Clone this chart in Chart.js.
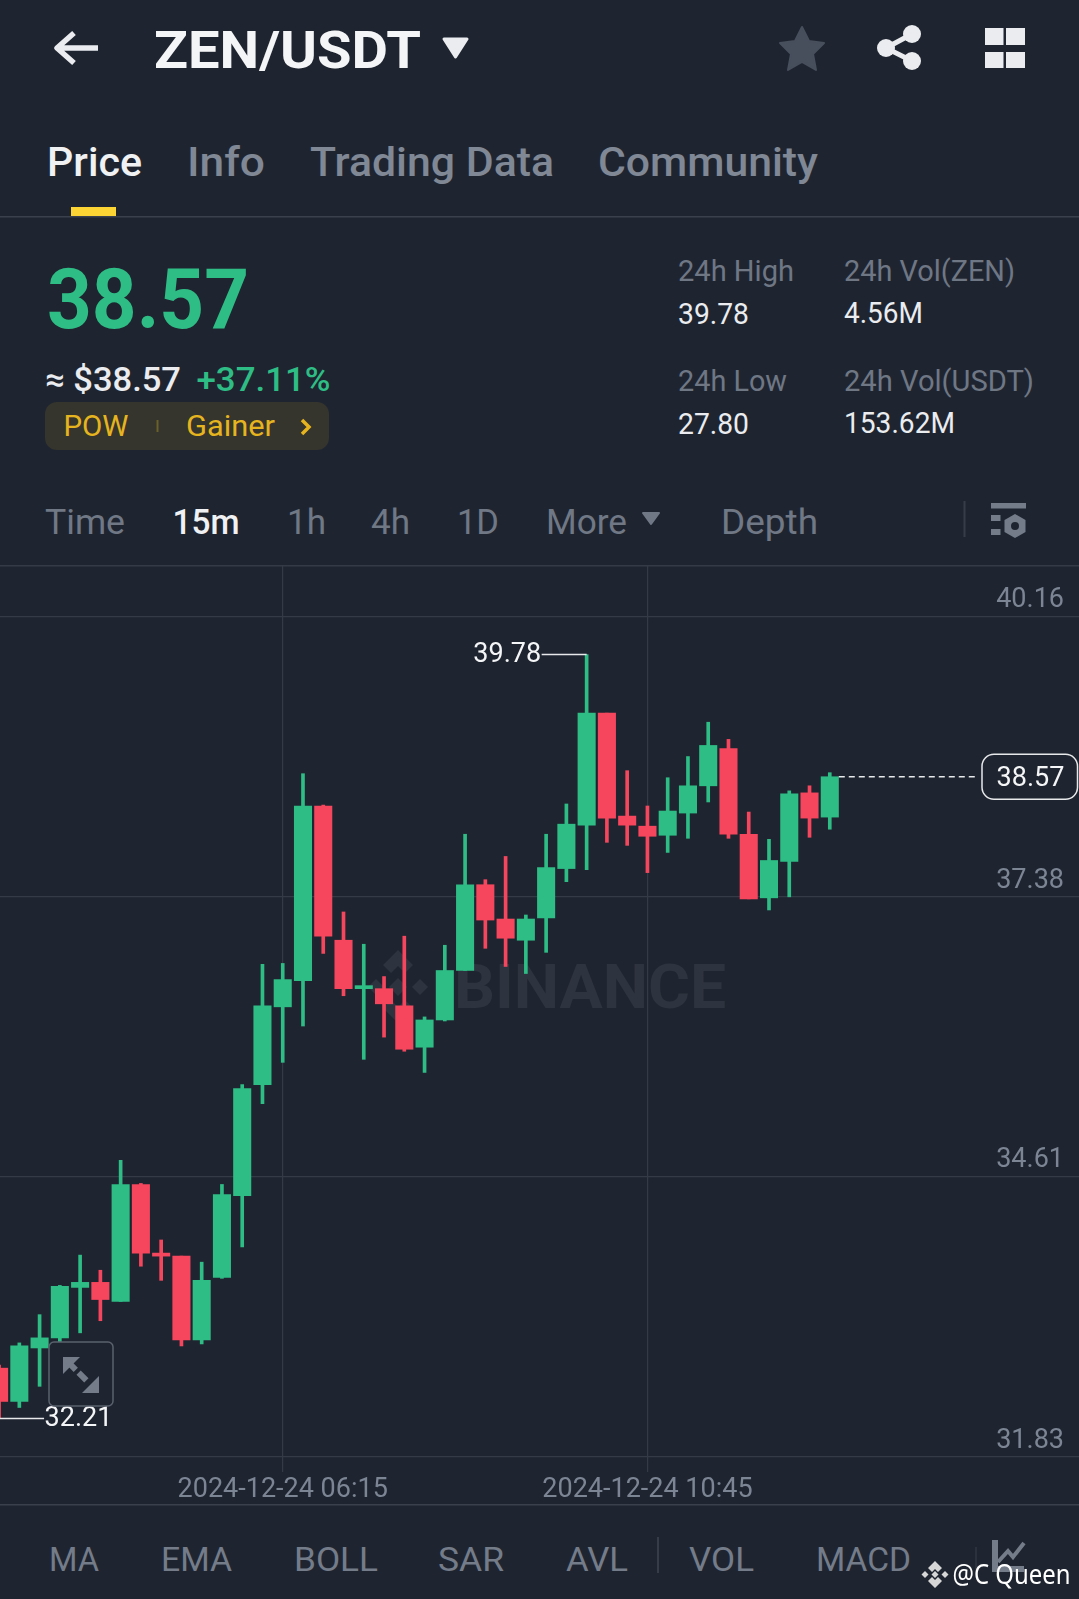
<!DOCTYPE html>
<html><head><meta charset="utf-8">
<style>
html,body{margin:0;padding:0;background:#1f2530;width:1079px;height:1599px;overflow:hidden}
svg,canvas{position:absolute;left:0}
text{font-family:Roboto,sans-serif}
</style>
<script src="https://cdn.jsdelivr.net/npm/chart.js@4"></script>
</head><body>
<svg style="top:0" width="1079" height="1599" viewBox="0 0 1079 1599">
  <path d="M98 48H60M74 33L57 48L74 63" fill="none" stroke="#eaecef" stroke-width="5.5" stroke-linejoin="round"/>
  <text x="154" y="68" font-size="52" font-weight="700" fill="#f4f5f6" textLength="267" lengthAdjust="spacingAndGlyphs">ZEN/USDT</text>
  <path d="M444 39H467L455.500 57Z" fill="#eaecef" stroke="#eaecef" stroke-width="3" stroke-linejoin="round"/>
  <path d="M802 27L809 41L824 43L813 54L816 70L802 62L788 70L791 54L780 43L795 41Z" fill="#474e5c" stroke="#474e5c" stroke-width="2" stroke-linejoin="round"/>
  <g fill="#eaecef"><circle cx="912" cy="34" r="9"/><circle cx="886" cy="48" r="9"/><circle cx="912" cy="61" r="9"/></g>
  <path d="M912 34L886 48L912 61" fill="none" stroke="#eaecef" stroke-width="5"/>
  <g fill="#eaecef"><rect x="985" y="28" width="18.500" height="17"/><rect x="1006" y="28" width="19" height="17"/><rect x="985" y="52" width="18.500" height="16"/><rect x="1006" y="52" width="19" height="16"/></g>

  <text x="47" y="176" font-size="40" font-weight="500" fill="#f0f1f3" textLength="95" lengthAdjust="spacingAndGlyphs">Price</text>
  <g font-size="40" font-weight="500" fill="#808896">
    <text x="187" y="176" textLength="78" lengthAdjust="spacingAndGlyphs">Info</text>
    <text x="310" y="176" textLength="244" lengthAdjust="spacingAndGlyphs">Trading Data</text>
    <text x="598" y="176" textLength="220" lengthAdjust="spacingAndGlyphs">Community</text>
  </g>
  <rect x="71" y="207" width="45" height="9" fill="#fcd535"/>
  <rect x="0" y="216" width="1079" height="1.500" fill="#3a404c"/>

  <text x="47" y="328" font-size="84" font-weight="700" fill="#2ebd85" textLength="202" lengthAdjust="spacingAndGlyphs">38.57</text>
  <text x="45" y="391" font-size="34" font-weight="500" fill="#eaecef" textLength="136" lengthAdjust="spacingAndGlyphs">≈ $38.57</text>
  <text x="196.500" y="391" font-size="34" font-weight="500" fill="#2ebd85" textLength="134" lengthAdjust="spacingAndGlyphs">+37.11%</text>
  <rect x="45" y="402" width="284" height="48" rx="12" fill="#35352d"/>
  <text x="63.500" y="436" font-size="30" fill="#e6b41e" textLength="65" lengthAdjust="spacingAndGlyphs">POW</text>
  <rect x="156.500" y="420" width="2" height="12" fill="#6b5f2a"/>
  <text x="186" y="436" font-size="30" fill="#e6b41e" textLength="89" lengthAdjust="spacingAndGlyphs">Gainer</text>
  <path d="M302 420L309 427L302 434" fill="none" stroke="#e6b41e" stroke-width="3.500"/>

  <g font-size="30" fill="#6f7785">
    <text x="678" y="281" textLength="116" lengthAdjust="spacingAndGlyphs">24h High</text>
    <text x="844" y="281" textLength="171" lengthAdjust="spacingAndGlyphs">24h Vol(ZEN)</text>
    <text x="678" y="391" textLength="109" lengthAdjust="spacingAndGlyphs">24h Low</text>
    <text x="844" y="391" textLength="190" lengthAdjust="spacingAndGlyphs">24h Vol(USDT)</text>
  </g>
  <g font-size="30" fill="#eaecef">
    <text x="678" y="324" textLength="71" lengthAdjust="spacingAndGlyphs">39.78</text>
    <text x="844" y="323" textLength="79" lengthAdjust="spacingAndGlyphs">4.56M</text>
    <text x="678" y="434" textLength="71" lengthAdjust="spacingAndGlyphs">27.80</text>
    <text x="844" y="433" textLength="111" lengthAdjust="spacingAndGlyphs">153.62M</text>
  </g>

  <g font-size="35" fill="#707886">
    <text x="45" y="534" textLength="80" lengthAdjust="spacingAndGlyphs">Time</text>
    <text x="287" y="534" textLength="39" lengthAdjust="spacingAndGlyphs">1h</text>
    <text x="371" y="534" textLength="39" lengthAdjust="spacingAndGlyphs">4h</text>
    <text x="457" y="534" textLength="42" lengthAdjust="spacingAndGlyphs">1D</text>
    <text x="546" y="534" textLength="81" lengthAdjust="spacingAndGlyphs">More</text>
    <text x="721" y="534" textLength="97" lengthAdjust="spacingAndGlyphs">Depth</text>
  </g>
  <text x="172.500" y="534" font-size="35" font-weight="500" fill="#f0f1f3" textLength="67" lengthAdjust="spacingAndGlyphs">15m</text>
  <path d="M643 513H659L651 524Z" fill="#707886" stroke="#707886" stroke-width="2" stroke-linejoin="round"/>
  <rect x="963.500" y="501" width="2" height="36" fill="#363c48"/>
  <g fill="#747c8a">
    <rect x="991" y="503" width="35" height="5.500"/><rect x="991" y="515" width="9.500" height="6"/><rect x="991" y="529" width="9.500" height="6"/>
    <path fill-rule="evenodd" d="M1015 514L1025.500 520V532L1015 538L1004.500 532V520ZM1015 522A4 4 0 1 0 1015 530A4 4 0 1 0 1015 522Z"/>
  </g>
  <rect x="0" y="565" width="1079" height="1.500" fill="#343a46"/>

  <g fill="#2e343f">
    <path d="M398 950L413 965L405 973L398 966L391 973L383 965Z"/>
    <path d="M398 1023L383 1008L391 1000L398 1007L405 1000L413 1008Z"/>
    <path d="M398 978L407 987L398 996L389 987Z"/>
    <path d="M376 979L384 987L376 995L368 987Z"/>
    <path d="M420 979L428 987L420 995L412 987Z"/>
    <text x="454" y="1008" font-size="62" font-weight="700" textLength="272" lengthAdjust="spacingAndGlyphs">BINANCE</text>
  </g>

  <rect x="0" y="1504" width="1079" height="1.500" fill="#3a404c"/>
  <g font-size="34" fill="#747c8a">
    <text x="49" y="1571" textLength="50" lengthAdjust="spacingAndGlyphs">MA</text>
    <text x="161" y="1571" textLength="71" lengthAdjust="spacingAndGlyphs">EMA</text>
    <text x="294" y="1571" textLength="84" lengthAdjust="spacingAndGlyphs">BOLL</text>
    <text x="438" y="1571" textLength="66" lengthAdjust="spacingAndGlyphs">SAR</text>
    <text x="566" y="1571" textLength="62" lengthAdjust="spacingAndGlyphs">AVL</text>
    <text x="689" y="1571" textLength="65" lengthAdjust="spacingAndGlyphs">VOL</text>
    <text x="816" y="1571" textLength="95" lengthAdjust="spacingAndGlyphs">MACD</text>
  </g>
  <rect x="657" y="1537" width="2" height="36" fill="#363c48"/>
  <rect x="975" y="1547" width="2" height="24" fill="#2c323d"/>
  <path d="M995 1540V1569H1024" fill="none" stroke="#747c8a" stroke-width="6"/>
  <path d="M998 1562L1008 1551L1013 1557L1024 1543" fill="none" stroke="#747c8a" stroke-width="4"/>
</svg>

<canvas id="chart" style="top:566px" width="1079" height="939"></canvas>

<svg style="top:0;pointer-events:none" width="1079" height="1599" viewBox="0 0 1079 1599">
  <rect x="49" y="1342" width="64" height="64" rx="5" fill="#1f2530" stroke="#5a616e" stroke-width="1.500"/>
  <g fill="#747c8a">
    <path d="M63 1357H80L63 1374Z"/><path d="M99 1393H82L99 1376Z"/>
  </g>
  <path d="M68 1362L94 1388" stroke="#747c8a" stroke-width="6" stroke-dasharray="11 4 11"/>
  <g fill="#d6d6d6">
    <path d="M935 1561L942 1568L938 1572L935 1569L932 1572L928 1568Z"/>
    <path d="M935 1588L928 1581L932 1577L935 1580L938 1577L942 1581Z"/>
    <path d="M935 1571L938.500 1574.500L935 1578L931.500 1574.500Z"/>
    <path d="M925 1571L928.500 1574.500L925 1578L921.500 1574.500Z"/>
    <path d="M945 1571L948.500 1574.500L945 1578L941.500 1574.500Z"/>
  </g>
  <text x="952.500" y="1584" font-size="28" fill="#ffffff" style="font-family:'Noto Sans',sans-serif" textLength="118" lengthAdjust="spacingAndGlyphs">@C Queen</text>
</svg>

<script>
const times = ['02:45','03:00','03:15','03:30','03:45','04:00','04:15','04:30','04:45','05:00','05:15','05:30','05:45','06:00','06:15','06:30','06:45','07:00','07:15','07:30','07:45','08:00','08:15','08:30','08:45','09:00','09:15','09:30','09:45','10:00','10:15','10:30','10:45','11:00','11:15','11:30','11:45','12:00','12:15','12:30','12:45','13:00'];
const opens  = [32.71,32.38,32.91,33.01,33.51,33.56,33.37,34.53,33.85,33.82,32.99,33.61,34.42,35.52,36.29,36.55,38.28,36.95,36.47,36.47,36.30,35.89,36.16,36.65,37.50,37.16,36.95,37.17,37.66,38.09,39.20,38.18,38.08,37.99,38.21,38.48,38.85,38.00,37.37,37.73,38.41,38.17];
const highs  = [32.74,32.96,33.24,33.53,33.83,33.68,34.77,34.54,33.98,33.82,33.76,34.53,35.52,36.71,36.72,38.60,38.29,37.23,36.91,36.59,36.99,36.19,36.90,38.00,37.55,37.78,37.20,38.00,38.30,39.78,39.20,38.63,38.28,38.56,38.77,39.11,38.94,38.22,37.95,38.43,38.48,38.61];
const lows   = [32.21,32.32,32.53,32.97,33.06,33.18,33.37,33.72,33.58,32.93,32.95,33.60,33.91,35.33,35.74,36.10,36.82,36.40,35.77,35.99,35.85,35.64,36.15,36.65,36.87,36.69,36.62,36.83,37.53,37.65,37.92,37.89,37.62,37.82,37.96,38.32,37.96,37.36,37.25,37.38,37.97,38.05];
const closes = [32.38,32.93,33.01,33.52,33.56,33.39,34.53,33.85,33.82,32.99,33.58,34.43,35.48,36.30,36.56,38.28,36.99,36.47,36.50,36.32,35.87,36.16,36.65,37.50,37.15,36.97,37.16,37.67,38.10,39.20,38.16,38.09,37.98,38.23,38.48,38.88,38.00,37.36,37.74,38.40,38.16,38.57];
const priceTicks = [40.16,37.38,34.61,31.83];
const timeTickLabels = ['06:15','10:45'];
const tickDate = '2024-12-24';
const lastPrice = 38.57;

const UP='#2ebd85', DOWN='#f6465d', BG='#1f2530';
const colors = opens.map((o,i)=> closes[i]>=o ? UP : DOWN);

const annotations = {
  id:'annotations',
  afterDatasetsDraw(c){
    const {ctx,scales:{x,y}} = c;
    ctx.save();
    ctx.font='27px Roboto';
    ctx.textBaseline='middle';
    ctx.strokeStyle='#e6e8ea'; ctx.fillStyle='#f4f5f6'; ctx.lineWidth=1.5;
    const hv=Math.max(...highs), hi=highs.indexOf(hv);
    const hx=x.getPixelForValue(hi), hy=y.getPixelForValue(hv);
    ctx.beginPath(); ctx.moveTo(hx,hy); ctx.lineTo(hx-45,hy); ctx.stroke();
    ctx.textAlign='right'; ctx.fillText(hv.toFixed(2),hx-45.5,hy+1);
    const lv=Math.min(...lows), li=lows.indexOf(lv);
    const lx=x.getPixelForValue(li), ly=y.getPixelForValue(lv);
    ctx.beginPath(); ctx.moveTo(Math.max(lx,0),ly); ctx.lineTo(lx+45,ly); ctx.stroke();
    ctx.textAlign='left'; ctx.fillText(lv.toFixed(2),lx+45.5,ly+1);
    const px=y.getPixelForValue(lastPrice), sx=x.getPixelForValue(times.length-1)+9;
    ctx.setLineDash([6,4]);
    ctx.beginPath(); ctx.moveTo(sx,px); ctx.lineTo(977,px); ctx.stroke();
    ctx.setLineDash([]);
    ctx.beginPath(); ctx.roundRect(982,px-22.5,95.5,45,12); ctx.fillStyle=BG; ctx.fill(); ctx.stroke();
    ctx.fillStyle='#f4f5f6'; ctx.textAlign='center';
    ctx.fillText(lastPrice.toFixed(2),1030.5,px+3);
    ctx.restore();
  }
};

function noPadding(s){s.paddingTop=0;s.paddingBottom=0;s.paddingLeft=0;s.paddingRight=0;}

new Chart(document.getElementById('chart'),{
  type:'bar',
  data:{datasets:[
    {label:'High-Low',data:times.map((t,i)=>({x:i,y:[lows[i],highs[i]]})),backgroundColor:colors,barThickness:3,grouped:false,order:2},
    {label:'Open-Close',data:times.map((t,i)=>({x:i,y:[opens[i],closes[i]]})),backgroundColor:colors,barThickness:17.4,grouped:false,order:1}
  ]},
  options:{
    responsive:false,animation:false,devicePixelRatio:1,
    layout:{padding:0},
    plugins:{legend:{display:false},tooltip:{enabled:false},title:{display:false}},
    scales:{
      x:{type:'linear',position:'bottom',min:0.046,max:53.3,offset:false,
        afterBuildTicks(s){s.ticks=timeTickLabels.map(t=>({value:times.indexOf(t)}));},
        afterFit(s){s.height=33;noPadding(s);},
        grid:{color:'#343b47',lineWidth:1.2,drawTicks:false,offset:false},border:{display:false},
        ticks:{autoSkip:false,maxRotation:0,padding:2,color:'#7c8594',font:{family:'Roboto',size:27},
          callback:v=>tickDate+' '+times[v]}},
      y:{type:'linear',position:'right',min:31.681,max:40.658,
        afterBuildTicks(s){s.ticks=priceTicks.map(v=>({value:v}));},
        afterFit(s){s.width=0;noPadding(s);},
        grid:{color:'#343b47',lineWidth:1.2,drawTicks:false},border:{display:false},
        ticks:{mirror:true,padding:-15,labelOffset:-16,color:'#7c8594',font:{family:'Roboto',size:27},
          callback:v=>v.toFixed(2)}}
    }
  },
  plugins:[annotations]
});
</script>
</body></html>
